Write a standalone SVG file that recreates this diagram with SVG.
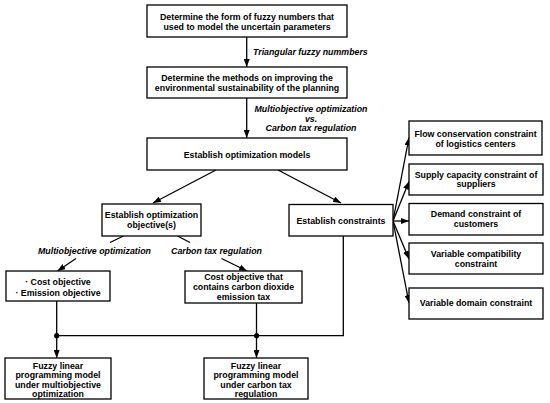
<svg xmlns="http://www.w3.org/2000/svg" width="550" height="403" viewBox="0 0 550 403">
<style>
rect.box{fill:#fff;stroke:#000;stroke-width:1.3}
text{font-family:"Liberation Sans",Arial,sans-serif;font-size:8.8px;font-weight:bold;fill:#000;text-anchor:middle}
text.lab{font-style:italic}
text.l{text-anchor:start}
.c line,.c polyline{stroke:#000;stroke-width:1.3;fill:none}
</style>
<defs>
<marker id="ah" markerWidth="8" markerHeight="6" refX="8" refY="3" orient="auto" markerUnits="userSpaceOnUse">
<path d="M0,0 L8,3 L0,6 Z" fill="#000"/>
</marker>
</defs>
<rect width="550" height="403" fill="#fff"/>
<g class="c" id="connectors">
<line x1="246.7" y1="37" x2="246.7" y2="67" marker-end="url(#ah)"/>
<line x1="246.7" y1="98" x2="246.7" y2="138" marker-end="url(#ah)"/>
<line x1="216" y1="170" x2="153" y2="203" marker-end="url(#ah)"/>
<line x1="278" y1="170" x2="341" y2="203" marker-end="url(#ah)"/>
<line x1="123.5" y1="236" x2="110" y2="242.5"/>
<line x1="76" y1="258.5" x2="57.5" y2="271" marker-end="url(#ah)"/>
<line x1="177.5" y1="236" x2="190" y2="242.5"/>
<line x1="221.5" y1="258.5" x2="247" y2="271" marker-end="url(#ah)"/>
<line x1="393" y1="221" x2="409" y2="137.5" marker-end="url(#ah)"/>
<line x1="393" y1="221" x2="409" y2="181.5" marker-end="url(#ah)"/>
<line x1="393" y1="221" x2="409" y2="221" marker-end="url(#ah)"/>
<line x1="393" y1="221" x2="409" y2="259" marker-end="url(#ah)"/>
<line x1="393" y1="221" x2="409" y2="303" marker-end="url(#ah)"/>
<line x1="56.7" y1="301" x2="56.7" y2="358" marker-end="url(#ah)"/>
<line x1="256.5" y1="303" x2="256.5" y2="358" marker-end="url(#ah)"/>
<polyline points="56.7,335.7 343.3,335.7 343.3,236"/>
<circle cx="56.7" cy="335.7" r="2.6" fill="#000"/>
<circle cx="256.5" cy="335.7" r="2.6" fill="#000"/>
<text class="lab l" x="253" y="55">Triangular fuzzy nummbers</text>
<text class="lab" x="311" y="112">Multiobjective optimization</text>
<text class="lab" x="311" y="121.5">vs.</text>
<text class="lab" x="311" y="131">Carbon tax regulation</text>
<text class="lab" x="94.5" y="254">Multiobjective optimization</text>
<text class="lab" x="216.5" y="254">Carbon tax regulation</text>
</g>
<g id="n1"><rect class="box" x="147" y="5" width="200" height="32"/>
<text x="247" y="19.5">Determine the form of fuzzy numbers that</text>
<text x="247" y="29.5">used to model the uncertain parameters</text></g>
<g id="n2"><rect class="box" x="147" y="67" width="200" height="31"/>
<text x="247" y="81">Determine the methods on improving the</text>
<text x="247" y="91">environmental sustainability of the planning</text></g>
<g id="n3"><rect class="box" x="147" y="138" width="200" height="32"/>
<text x="247" y="157.5">Establish optimization models</text></g>
<g id="n4"><rect class="box" x="102" y="204" width="99" height="32"/>
<text x="151.5" y="218">Establish optimization</text>
<text x="151.5" y="228">objective(s)</text></g>
<g id="n5"><rect class="box" x="289" y="204.5" width="104" height="31.5"/>
<text x="341" y="223.5">Establish constraints</text></g>
<g id="n6"><rect class="box" x="6" y="271" width="104" height="30"/>
<text x="58" y="285">· Cost objective</text>
<text x="58" y="296">· Emission objective</text></g>
<g id="n7"><rect class="box" x="185" y="271" width="117" height="32"/>
<text x="243.5" y="280">Cost objective that</text>
<text x="243.5" y="290">contains carbon dioxide</text>
<text x="243.5" y="300">emission tax</text></g>
<g id="n8"><rect class="box" x="5" y="358" width="106" height="41"/>
<text x="58" y="368.5">Fuzzy linear</text>
<text x="58" y="378">programming model</text>
<text x="58" y="387.5">under multiobjective</text>
<text x="58" y="397">optimization</text></g>
<g id="n9"><rect class="box" x="204" y="358" width="104" height="41"/>
<text x="256" y="368.5">Fuzzy linear</text>
<text x="256" y="378">programming model</text>
<text x="256" y="387.5">under carbon tax</text>
<text x="256" y="397">regulation</text></g>
<g id="n10"><rect class="box" x="409" y="121" width="133" height="34"/>
<text x="475.5" y="136.5">Flow conservation constraint</text>
<text x="475.5" y="146.5">of logistics centers</text></g>
<g id="n11"><rect class="box" x="409" y="164" width="134" height="31"/>
<text x="476" y="177.5">Supply capacity constraint of</text>
<text x="476" y="187">suppliers</text></g>
<g id="n12"><rect class="box" x="409" y="203.5" width="134" height="31.5"/>
<text x="476" y="217">Demand constraint of</text>
<text x="476" y="227">customers</text></g>
<g id="n13"><rect class="box" x="409" y="243" width="134" height="31"/>
<text x="476" y="257">Variable compatibility</text>
<text x="476" y="267">constraint</text></g>
<g id="n14"><rect class="box" x="409" y="288" width="134" height="31"/>
<text x="476" y="306">Variable domain constraint</text></g>
</svg>
